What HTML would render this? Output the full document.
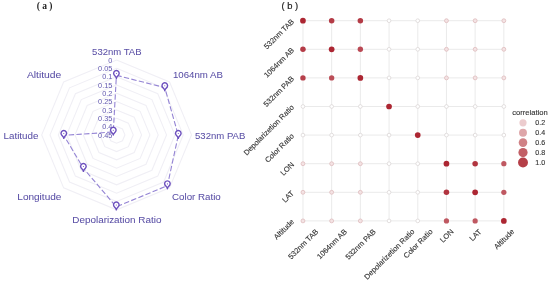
<!DOCTYPE html>
<html><head><meta charset="utf-8"><style>
html,body{margin:0;padding:0;background:#fff;}
svg{display:block;font-family:"Liberation Sans",Arial,sans-serif;}
</style></head><body>
<svg width="550" height="282" viewBox="0 0 550 282">
<rect width="550" height="282" fill="#fff"/>
<polygon points="116.6,126.58 122.48,129.02 124.92,134.9 122.48,140.78 116.6,143.22 110.72,140.78 108.28,134.9 110.72,129.02" fill="none" stroke="#f0eff5" stroke-width="1.1"/>
<polygon points="116.6,118.26 128.37,123.13 133.24,134.9 128.37,146.67 116.6,151.54 104.83,146.67 99.96,134.9 104.83,123.13" fill="none" stroke="#f0eff5" stroke-width="1.1"/>
<polygon points="116.6,109.93 134.25,117.25 141.57,134.9 134.25,152.55 116.6,159.87 98.95,152.55 91.63,134.9 98.95,117.25" fill="none" stroke="#f0eff5" stroke-width="1.1"/>
<polygon points="116.6,101.61 140.14,111.36 149.89,134.9 140.14,158.44 116.6,168.19 93.06,158.44 83.31,134.9 93.06,111.36" fill="none" stroke="#f0eff5" stroke-width="1.1"/>
<polygon points="116.6,93.29 146.02,105.48 158.21,134.9 146.02,164.32 116.6,176.51 87.18,164.32 74.99,134.9 87.18,105.48" fill="none" stroke="#f0eff5" stroke-width="1.1"/>
<polygon points="116.6,84.97 151.91,99.59 166.53,134.9 151.91,170.21 116.6,184.83 81.29,170.21 66.67,134.9 81.29,99.59" fill="none" stroke="#f0eff5" stroke-width="1.1"/>
<polygon points="116.6,76.64 157.79,93.71 174.86,134.9 157.79,176.09 116.6,193.16 75.41,176.09 58.34,134.9 75.41,93.71" fill="none" stroke="#f0eff5" stroke-width="1.1"/>
<polygon points="116.6,68.32 163.68,87.82 183.18,134.9 163.68,181.98 116.6,201.48 69.52,181.98 50.02,134.9 69.52,87.82" fill="none" stroke="#f0eff5" stroke-width="1.1"/>
<polygon points="116.6,60 169.56,81.94 191.5,134.9 169.56,187.86 116.6,209.8 63.64,187.86 41.7,134.9 63.64,81.94" fill="none" stroke="#f0eff5" stroke-width="1.1"/>
<polygon points="116.4,75.3 164.8,87.6 178.3,135.3 167.4,185.7 116.3,206.8 83.4,168.3 63.8,135.3 113.3,132" fill="none" stroke="#9484d4" stroke-width="1.1" stroke-dasharray="5.4 2.3"/>
<text x="112.3" y="62.7" text-anchor="end" font-size="7.9" fill="#6258b0" textLength="4.06" lengthAdjust="spacingAndGlyphs">0</text>
<text x="112.3" y="71.02" text-anchor="end" font-size="7.9" fill="#6258b0" textLength="14.21" lengthAdjust="spacingAndGlyphs">0.05</text>
<text x="112.3" y="79.34" text-anchor="end" font-size="7.9" fill="#6258b0" textLength="10.15" lengthAdjust="spacingAndGlyphs">0.1</text>
<text x="112.3" y="87.67" text-anchor="end" font-size="7.9" fill="#6258b0" textLength="14.21" lengthAdjust="spacingAndGlyphs">0.15</text>
<text x="112.3" y="95.99" text-anchor="end" font-size="7.9" fill="#6258b0" textLength="10.15" lengthAdjust="spacingAndGlyphs">0.2</text>
<text x="112.3" y="104.31" text-anchor="end" font-size="7.9" fill="#6258b0" textLength="14.21" lengthAdjust="spacingAndGlyphs">0.25</text>
<text x="112.3" y="112.63" text-anchor="end" font-size="7.9" fill="#6258b0" textLength="10.15" lengthAdjust="spacingAndGlyphs">0.3</text>
<text x="112.3" y="120.96" text-anchor="end" font-size="7.9" fill="#6258b0" textLength="14.21" lengthAdjust="spacingAndGlyphs">0.35</text>
<text x="112.3" y="129.28" text-anchor="end" font-size="7.9" fill="#6258b0" textLength="10.15" lengthAdjust="spacingAndGlyphs">0.4</text>
<text x="112.3" y="137.6" text-anchor="end" font-size="7.9" fill="#6258b0" textLength="14.21" lengthAdjust="spacingAndGlyphs">0.45</text>
<path d="M113.9,74.52 A2.78,2.78 0 1 1 118.9,74.52 C118.16,76.02 116.4,76.45 116.4,78.4 C116.4,76.45 114.64,76.02 113.9,74.52Z" fill="#fff" stroke="#6c4fbd" stroke-width="1.4" stroke-linejoin="round"/>
<circle cx="116.4" cy="73.5" r="0.55" fill="#6c4fbd"/>
<path d="M162.3,86.82 A2.78,2.78 0 1 1 167.3,86.82 C166.56,88.32 164.8,88.75 164.8,90.7 C164.8,88.75 163.04,88.32 162.3,86.82Z" fill="#fff" stroke="#6c4fbd" stroke-width="1.4" stroke-linejoin="round"/>
<circle cx="164.8" cy="85.8" r="0.55" fill="#6c4fbd"/>
<path d="M175.8,134.52 A2.78,2.78 0 1 1 180.8,134.52 C180.06,136.02 178.3,136.45 178.3,138.4 C178.3,136.45 176.54,136.02 175.8,134.52Z" fill="#fff" stroke="#6c4fbd" stroke-width="1.4" stroke-linejoin="round"/>
<circle cx="178.3" cy="133.5" r="0.55" fill="#6c4fbd"/>
<path d="M164.9,184.92 A2.78,2.78 0 1 1 169.9,184.92 C169.16,186.42 167.4,186.85 167.4,188.8 C167.4,186.85 165.64,186.42 164.9,184.92Z" fill="#fff" stroke="#6c4fbd" stroke-width="1.4" stroke-linejoin="round"/>
<circle cx="167.4" cy="183.9" r="0.55" fill="#6c4fbd"/>
<path d="M113.8,206.02 A2.78,2.78 0 1 1 118.8,206.02 C118.06,207.52 116.3,207.95 116.3,209.9 C116.3,207.95 114.54,207.52 113.8,206.02Z" fill="#fff" stroke="#6c4fbd" stroke-width="1.4" stroke-linejoin="round"/>
<circle cx="116.3" cy="205" r="0.55" fill="#6c4fbd"/>
<path d="M80.9,167.52 A2.78,2.78 0 1 1 85.9,167.52 C85.16,169.02 83.4,169.45 83.4,171.4 C83.4,169.45 81.64,169.02 80.9,167.52Z" fill="#fff" stroke="#6c4fbd" stroke-width="1.4" stroke-linejoin="round"/>
<circle cx="83.4" cy="166.5" r="0.55" fill="#6c4fbd"/>
<path d="M61.3,134.52 A2.78,2.78 0 1 1 66.3,134.52 C65.56,136.02 63.8,136.45 63.8,138.4 C63.8,136.45 62.04,136.02 61.3,134.52Z" fill="#fff" stroke="#6c4fbd" stroke-width="1.4" stroke-linejoin="round"/>
<circle cx="63.8" cy="133.5" r="0.55" fill="#6c4fbd"/>
<path d="M110.8,131.22 A2.78,2.78 0 1 1 115.8,131.22 C115.06,132.72 113.3,133.15 113.3,135.1 C113.3,133.15 111.54,132.72 110.8,131.22Z" fill="#fff" stroke="#6c4fbd" stroke-width="1.4" stroke-linejoin="round"/>
<circle cx="113.3" cy="130.2" r="0.55" fill="#6c4fbd"/>
<text x="92.1" y="55.2" font-size="9.9" fill="#5a4fa6" stroke="#5a4fa6" stroke-width="0.05" textLength="49.4" lengthAdjust="spacingAndGlyphs">532nm TAB</text>
<text x="173" y="77.9" font-size="9.9" fill="#5a4fa6" stroke="#5a4fa6" stroke-width="0.05" textLength="49.9" lengthAdjust="spacingAndGlyphs">1064nm AB</text>
<text x="195" y="138.5" font-size="9.9" fill="#5a4fa6" stroke="#5a4fa6" stroke-width="0.05" textLength="50.3" lengthAdjust="spacingAndGlyphs">532nm PAB</text>
<text x="172.1" y="199.8" font-size="9.9" fill="#5a4fa6" stroke="#5a4fa6" stroke-width="0.05" textLength="48.7" lengthAdjust="spacingAndGlyphs">Color Ratio</text>
<text x="72.3" y="222.8" font-size="9.9" fill="#5a4fa6" stroke="#5a4fa6" stroke-width="0.05" textLength="89.1" lengthAdjust="spacingAndGlyphs">Depolarization Ratio</text>
<text x="17.3" y="199.8" font-size="9.9" fill="#5a4fa6" stroke="#5a4fa6" stroke-width="0.05" textLength="44.1" lengthAdjust="spacingAndGlyphs">Longitude</text>
<text x="3.5" y="138.6" font-size="9.9" fill="#5a4fa6" stroke="#5a4fa6" stroke-width="0.05" textLength="34.9" lengthAdjust="spacingAndGlyphs">Latitude</text>
<text x="26.9" y="77.9" font-size="9.9" fill="#5a4fa6" stroke="#5a4fa6" stroke-width="0.05" textLength="34.5" lengthAdjust="spacingAndGlyphs">Altitude</text>
<text x="44.6" y="9.45" text-anchor="middle" font-family="Liberation Serif, serif" font-weight="bold" font-size="9.5" fill="#1e1e1e">( a )</text>
<line x1="302.95" y1="20.7" x2="503.85" y2="20.7" stroke="#e8e8e8" stroke-width="0.9"/>
<line x1="302.95" y1="49.3" x2="503.85" y2="49.3" stroke="#e8e8e8" stroke-width="0.9"/>
<line x1="302.95" y1="77.9" x2="503.85" y2="77.9" stroke="#e8e8e8" stroke-width="0.9"/>
<line x1="302.95" y1="106.5" x2="503.85" y2="106.5" stroke="#e8e8e8" stroke-width="0.9"/>
<line x1="302.95" y1="135.1" x2="503.85" y2="135.1" stroke="#e8e8e8" stroke-width="0.9"/>
<line x1="302.95" y1="163.7" x2="503.85" y2="163.7" stroke="#e8e8e8" stroke-width="0.9"/>
<line x1="302.95" y1="192.3" x2="503.85" y2="192.3" stroke="#e8e8e8" stroke-width="0.9"/>
<line x1="302.95" y1="220.9" x2="503.85" y2="220.9" stroke="#e8e8e8" stroke-width="0.9"/>
<line x1="302.95" y1="20.7" x2="302.95" y2="220.9" stroke="#e8e8e8" stroke-width="0.9"/>
<line x1="331.65" y1="20.7" x2="331.65" y2="220.9" stroke="#e8e8e8" stroke-width="0.9"/>
<line x1="360.35" y1="20.7" x2="360.35" y2="220.9" stroke="#e8e8e8" stroke-width="0.9"/>
<line x1="389.05" y1="20.7" x2="389.05" y2="220.9" stroke="#e8e8e8" stroke-width="0.9"/>
<line x1="417.75" y1="20.7" x2="417.75" y2="220.9" stroke="#e8e8e8" stroke-width="0.9"/>
<line x1="446.45" y1="20.7" x2="446.45" y2="220.9" stroke="#e8e8e8" stroke-width="0.9"/>
<line x1="475.15" y1="20.7" x2="475.15" y2="220.9" stroke="#e8e8e8" stroke-width="0.9"/>
<line x1="503.85" y1="20.7" x2="503.85" y2="220.9" stroke="#e8e8e8" stroke-width="0.9"/>
<circle cx="302.95" cy="20.7" r="2.85" fill="#ac2632"/>
<circle cx="331.65" cy="20.7" r="2.75" fill="#b43b46"/>
<circle cx="360.35" cy="20.7" r="2.75" fill="#b43b46"/>
<circle cx="389.05" cy="20.7" r="1.85" fill="#ffffff" stroke="#d9d4d4" stroke-width="0.75"/>
<circle cx="417.75" cy="20.7" r="1.85" fill="#ffffff" stroke="#d9d4d4" stroke-width="0.75"/>
<circle cx="446.45" cy="20.7" r="1.95" fill="#f4e3e4" stroke="#dcb8ba" stroke-width="0.75"/>
<circle cx="475.15" cy="20.7" r="1.95" fill="#f4e3e4" stroke="#dcb8ba" stroke-width="0.75"/>
<circle cx="503.85" cy="20.7" r="1.95" fill="#f4e3e4" stroke="#dcb8ba" stroke-width="0.75"/>
<circle cx="302.95" cy="49.3" r="2.75" fill="#b43b46"/>
<circle cx="331.65" cy="49.3" r="2.85" fill="#ac2632"/>
<circle cx="360.35" cy="49.3" r="2.68" fill="#ba4954"/>
<circle cx="389.05" cy="49.3" r="1.85" fill="#ffffff" stroke="#d9d4d4" stroke-width="0.75"/>
<circle cx="417.75" cy="49.3" r="1.85" fill="#ffffff" stroke="#d9d4d4" stroke-width="0.75"/>
<circle cx="446.45" cy="49.3" r="1.95" fill="#f4e3e4" stroke="#dcb8ba" stroke-width="0.75"/>
<circle cx="475.15" cy="49.3" r="1.95" fill="#f4e3e4" stroke="#dcb8ba" stroke-width="0.75"/>
<circle cx="503.85" cy="49.3" r="1.95" fill="#f4e3e4" stroke="#dcb8ba" stroke-width="0.75"/>
<circle cx="302.95" cy="77.9" r="2.72" fill="#b6404b"/>
<circle cx="331.65" cy="77.9" r="2.66" fill="#bb4d57"/>
<circle cx="360.35" cy="77.9" r="2.85" fill="#ac2632"/>
<circle cx="389.05" cy="77.9" r="1.85" fill="#ffffff" stroke="#d9d4d4" stroke-width="0.75"/>
<circle cx="417.75" cy="77.9" r="1.85" fill="#ffffff" stroke="#d9d4d4" stroke-width="0.75"/>
<circle cx="446.45" cy="77.9" r="1.95" fill="#f4e3e4" stroke="#dcb8ba" stroke-width="0.75"/>
<circle cx="475.15" cy="77.9" r="1.95" fill="#f4e3e4" stroke="#dcb8ba" stroke-width="0.75"/>
<circle cx="503.85" cy="77.9" r="1.95" fill="#f4e3e4" stroke="#dcb8ba" stroke-width="0.75"/>
<circle cx="302.95" cy="106.5" r="1.85" fill="#ffffff" stroke="#d9d4d4" stroke-width="0.75"/>
<circle cx="331.65" cy="106.5" r="1.85" fill="#ffffff" stroke="#d9d4d4" stroke-width="0.75"/>
<circle cx="360.35" cy="106.5" r="1.85" fill="#ffffff" stroke="#d9d4d4" stroke-width="0.75"/>
<circle cx="389.05" cy="106.5" r="2.85" fill="#ac2632"/>
<circle cx="417.75" cy="106.5" r="1.85" fill="#ffffff" stroke="#d9d4d4" stroke-width="0.75"/>
<circle cx="446.45" cy="106.5" r="1.85" fill="#ffffff" stroke="#d9d4d4" stroke-width="0.75"/>
<circle cx="475.15" cy="106.5" r="1.85" fill="#ffffff" stroke="#d9d4d4" stroke-width="0.75"/>
<circle cx="503.85" cy="106.5" r="1.85" fill="#ffffff" stroke="#d9d4d4" stroke-width="0.75"/>
<circle cx="302.95" cy="135.1" r="1.85" fill="#ffffff" stroke="#d9d4d4" stroke-width="0.75"/>
<circle cx="331.65" cy="135.1" r="1.85" fill="#ffffff" stroke="#d9d4d4" stroke-width="0.75"/>
<circle cx="360.35" cy="135.1" r="1.85" fill="#ffffff" stroke="#d9d4d4" stroke-width="0.75"/>
<circle cx="389.05" cy="135.1" r="1.85" fill="#ffffff" stroke="#d9d4d4" stroke-width="0.75"/>
<circle cx="417.75" cy="135.1" r="2.85" fill="#ac2632"/>
<circle cx="446.45" cy="135.1" r="1.85" fill="#ffffff" stroke="#d9d4d4" stroke-width="0.75"/>
<circle cx="475.15" cy="135.1" r="1.85" fill="#ffffff" stroke="#d9d4d4" stroke-width="0.75"/>
<circle cx="503.85" cy="135.1" r="1.85" fill="#ffffff" stroke="#d9d4d4" stroke-width="0.75"/>
<circle cx="302.95" cy="163.7" r="1.95" fill="#f4e3e4" stroke="#dcb8ba" stroke-width="0.75"/>
<circle cx="331.65" cy="163.7" r="1.95" fill="#f4e3e4" stroke="#dcb8ba" stroke-width="0.75"/>
<circle cx="360.35" cy="163.7" r="1.95" fill="#f4e3e4" stroke="#dcb8ba" stroke-width="0.75"/>
<circle cx="389.05" cy="163.7" r="1.85" fill="#ffffff" stroke="#d9d4d4" stroke-width="0.75"/>
<circle cx="417.75" cy="163.7" r="1.85" fill="#ffffff" stroke="#d9d4d4" stroke-width="0.75"/>
<circle cx="446.45" cy="163.7" r="2.85" fill="#ac2632"/>
<circle cx="475.15" cy="163.7" r="2.78" fill="#b1343f"/>
<circle cx="503.85" cy="163.7" r="2.61" fill="#bf5861"/>
<circle cx="302.95" cy="192.3" r="1.95" fill="#f4e3e4" stroke="#dcb8ba" stroke-width="0.75"/>
<circle cx="331.65" cy="192.3" r="1.95" fill="#f4e3e4" stroke="#dcb8ba" stroke-width="0.75"/>
<circle cx="360.35" cy="192.3" r="1.95" fill="#f4e3e4" stroke="#dcb8ba" stroke-width="0.75"/>
<circle cx="389.05" cy="192.3" r="1.85" fill="#ffffff" stroke="#d9d4d4" stroke-width="0.75"/>
<circle cx="417.75" cy="192.3" r="1.85" fill="#ffffff" stroke="#d9d4d4" stroke-width="0.75"/>
<circle cx="446.45" cy="192.3" r="2.78" fill="#b1343f"/>
<circle cx="475.15" cy="192.3" r="2.85" fill="#ac2632"/>
<circle cx="503.85" cy="192.3" r="2.61" fill="#bf5861"/>
<circle cx="302.95" cy="220.9" r="1.95" fill="#f4e3e4" stroke="#dcb8ba" stroke-width="0.75"/>
<circle cx="331.65" cy="220.9" r="1.95" fill="#f4e3e4" stroke="#dcb8ba" stroke-width="0.75"/>
<circle cx="360.35" cy="220.9" r="1.95" fill="#f4e3e4" stroke="#dcb8ba" stroke-width="0.75"/>
<circle cx="389.05" cy="220.9" r="1.85" fill="#ffffff" stroke="#d9d4d4" stroke-width="0.75"/>
<circle cx="417.75" cy="220.9" r="1.85" fill="#ffffff" stroke="#d9d4d4" stroke-width="0.75"/>
<circle cx="446.45" cy="220.9" r="2.61" fill="#bf5861"/>
<circle cx="475.15" cy="220.9" r="2.61" fill="#bf5861"/>
<circle cx="503.85" cy="220.9" r="2.85" fill="#ac2632"/>
<text transform="translate(294.5,22.1) rotate(-45)" text-anchor="end" font-size="7.5" fill="#333333" stroke="#333333" stroke-width="0.12">532nm TAB</text>
<text transform="translate(294.5,50.7) rotate(-45)" text-anchor="end" font-size="7.5" fill="#333333" stroke="#333333" stroke-width="0.12">1064nm AB</text>
<text transform="translate(294.5,79.3) rotate(-45)" text-anchor="end" font-size="7.5" fill="#333333" stroke="#333333" stroke-width="0.12">532nm PAB</text>
<text transform="translate(294.5,107.9) rotate(-45)" text-anchor="end" font-size="7.5" fill="#333333" stroke="#333333" stroke-width="0.12">Depolarizetion Ratio</text>
<text transform="translate(294.5,136.5) rotate(-45)" text-anchor="end" font-size="7.5" fill="#333333" stroke="#333333" stroke-width="0.12">Color Ratio</text>
<text transform="translate(294.5,165.1) rotate(-45)" text-anchor="end" font-size="7.5" fill="#333333" stroke="#333333" stroke-width="0.12">LON</text>
<text transform="translate(294.5,193.7) rotate(-45)" text-anchor="end" font-size="7.5" fill="#333333" stroke="#333333" stroke-width="0.12">LAT</text>
<text transform="translate(294.5,222.3) rotate(-45)" text-anchor="end" font-size="7.5" fill="#333333" stroke="#333333" stroke-width="0.12">Altitude</text>
<text transform="translate(303.25,244.14) rotate(-45)" text-anchor="middle" dominant-baseline="central" font-size="7.5" fill="#333333" stroke="#333333" stroke-width="0.12">532nm TAB</text>
<text transform="translate(331.95,244.09) rotate(-45)" text-anchor="middle" dominant-baseline="central" font-size="7.5" fill="#333333" stroke="#333333" stroke-width="0.12">1064nm AB</text>
<text transform="translate(360.65,244.33) rotate(-45)" text-anchor="middle" dominant-baseline="central" font-size="7.5" fill="#333333" stroke="#333333" stroke-width="0.12">532nm PAB</text>
<text transform="translate(389.35,254.26) rotate(-45)" text-anchor="middle" dominant-baseline="central" font-size="7.5" fill="#333333" stroke="#333333" stroke-width="0.12">Depolarizetion Ratio</text>
<text transform="translate(418.05,243.64) rotate(-45)" text-anchor="middle" dominant-baseline="central" font-size="7.5" fill="#333333" stroke="#333333" stroke-width="0.12">Color Ratio</text>
<text transform="translate(446.75,235.83) rotate(-45)" text-anchor="middle" dominant-baseline="central" font-size="7.5" fill="#333333" stroke="#333333" stroke-width="0.12">LON</text>
<text transform="translate(475.45,235.05) rotate(-45)" text-anchor="middle" dominant-baseline="central" font-size="7.5" fill="#333333" stroke="#333333" stroke-width="0.12">LAT</text>
<text transform="translate(504.15,239.22) rotate(-45)" text-anchor="middle" dominant-baseline="central" font-size="7.5" fill="#333333" stroke="#333333" stroke-width="0.12">Altitude</text>
<text x="289.8" y="8.9" text-anchor="middle" font-size="9.4" fill="#222" stroke="#222" stroke-width="0.2">( b )</text>
<text x="512.2" y="114.6" font-size="7.8" fill="#333333" stroke="#333333" stroke-width="0.12" textLength="35.5" lengthAdjust="spacingAndGlyphs">correlation</text>
<circle cx="523" cy="122.8" r="3.6" fill="#ecccce"/>
<text x="535.3" y="125.2" font-size="7.1" fill="#333333" stroke="#333333" stroke-width="0.12">0.2</text>
<circle cx="523" cy="132.7" r="3.95" fill="#dea6a9"/>
<text x="535.3" y="135.1" font-size="7.1" fill="#333333" stroke="#333333" stroke-width="0.12">0.4</text>
<circle cx="523" cy="142.6" r="4.3" fill="#d08286"/>
<text x="535.3" y="145" font-size="7.1" fill="#333333" stroke="#333333" stroke-width="0.12">0.6</text>
<circle cx="523" cy="152.6" r="4.6" fill="#c25f66"/>
<text x="535.3" y="155" font-size="7.1" fill="#333333" stroke="#333333" stroke-width="0.12">0.8</text>
<circle cx="523" cy="162.5" r="4.95" fill="#b53f48"/>
<text x="535.3" y="164.9" font-size="7.1" fill="#333333" stroke="#333333" stroke-width="0.12">1.0</text>
</svg>
</body></html>
